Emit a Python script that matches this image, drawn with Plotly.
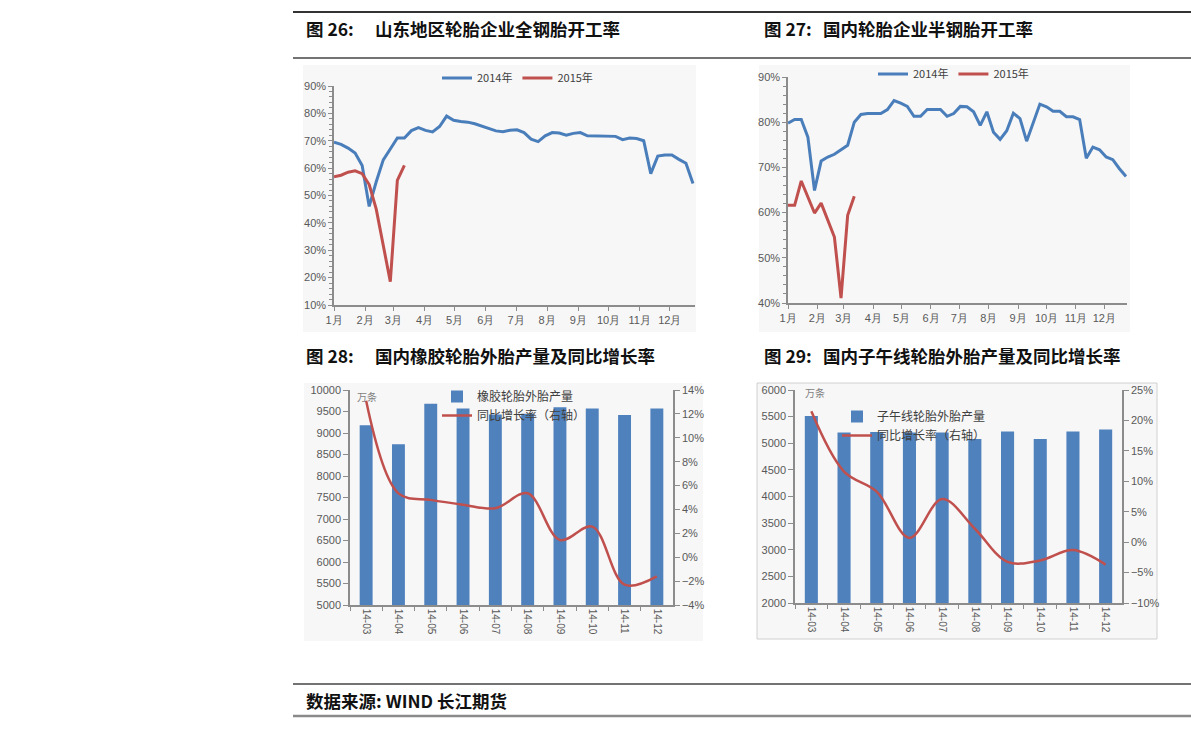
import pandas as pd
import plotly.graph_objects as go

# ---------------- data ----------------
week_dates = pd.date_range("2014-01-01", periods=52, freq="7D")
month_starts = pd.date_range("2014-01-01", periods=12, freq="MS")
month_labels = ["1月", "2月", "3月", "4月", "5月", "6月", "7月", "8月", "9月", "10月", "11月", "12月"]

allsteel_2014 = [69.5, 68.7, 67.3, 65.5, 61.0, 46.0, 55.0, 63.0, 67.0, 71.0,
                 71.0, 73.7, 74.8, 73.8, 73.2, 75.2, 79.0, 77.5, 77.0, 76.8,
                 76.2, 75.3, 74.5, 73.6, 73.3, 73.8, 74.0, 73.0, 70.6, 69.7,
                 71.8, 73.0, 72.8, 72.0, 72.7, 73.0, 71.8, 71.7, 71.7, 71.7,
                 71.6, 70.4, 71.0, 70.8, 70.0, 58.0, 64.4, 64.8, 64.8, 63.2,
                 61.8, 54.4]
allsteel_2015 = [56.8, 57.4, 58.5, 59.0, 58.0, 54.0, 45.0, 32.0, 18.5, 55.5, 61.0]

semisteel_2014 = [79.8, 80.6, 80.6, 76.7, 64.9, 71.4, 72.3, 72.9, 73.9, 74.9,
                  80.0, 81.7, 81.9, 81.9, 81.9, 82.8, 84.8, 84.2, 83.5, 81.3,
                  81.3, 82.8, 82.8, 82.8, 81.3, 81.9, 83.5, 83.4, 82.3, 79.3,
                  82.3, 77.8, 76.2, 78.1, 82.0, 80.8, 75.8, 79.7, 84.0, 83.4,
                  82.4, 82.4, 81.2, 81.2, 80.6, 72.0, 74.5, 73.9, 72.3, 71.7,
                  69.7, 68.0]
semisteel_2015 = [61.6, 61.6, 67.0, 63.5, 59.9, 62.1, 58.3, 54.6, 41.1, 59.4, 63.6]

bar_months = ["14-03", "14-04", "14-05", "14-06", "14-07", "14-08", "14-09", "14-10", "14-11", "14-12"]
rubber_output = [9180, 8740, 9680, 9570, 9430, 9450, 9600, 9570, 9420, 9570]
rubber_yoy = [13.1, 5.35, 4.8, 4.4, 4.1, 5.35, 1.44, 2.56, -2.3, -1.6]
radial_output = [5510, 5200, 5210, 5200, 5200, 5080, 5220, 5080, 5220, 5260]
radial_yoy = [21.5, 11.6, 8.3, 0.7, 7.1, 2.2, -3.25, -3.0, -1.3, -3.7]

# ---------------- style ----------------
W, H = 1191, 729
BLUE = "#4a7ebb"
RED = "#c0504d"
BAR = "#4f81bd"
AX = "#8c8c8c"
TXT = "#595959"
CJK = "Noto Sans CJK SC"
NUM = "Liberation Sans Narrow, Liberation Sans, Arial"


def px(x):
    return x / W


def py(y):
    return 1 - y / H


fig = go.Figure()

# chart 1
fig.add_trace(go.Scatter(x=week_dates, y=allsteel_2014, mode="lines", name="2014年",
                         line=dict(color=BLUE, width=3), xaxis="x", yaxis="y", legend="legend"))
fig.add_trace(go.Scatter(x=week_dates[:len(allsteel_2015)], y=allsteel_2015, mode="lines", name="2015年",
                         line=dict(color=RED, width=3), xaxis="x", yaxis="y", legend="legend"))
# chart 2
fig.add_trace(go.Scatter(x=week_dates, y=semisteel_2014, mode="lines", name="2014年",
                         line=dict(color=BLUE, width=3), xaxis="x2", yaxis="y2", legend="legend2"))
fig.add_trace(go.Scatter(x=week_dates[:len(semisteel_2015)], y=semisteel_2015, mode="lines", name="2015年",
                         line=dict(color=RED, width=3), xaxis="x2", yaxis="y2", legend="legend2"))
# chart 3
fig.add_trace(go.Bar(x=bar_months, y=rubber_output, name="橡胶轮胎外胎产量", marker=dict(color=BAR, line=dict(width=0)),
                     xaxis="x3", yaxis="y3", legend="legend3"))
fig.add_trace(go.Scatter(x=bar_months, y=rubber_yoy, mode="lines", name="同比增长率（右轴）",
                         line=dict(color=RED, width=2.5, shape="spline", smoothing=1.0),
                         xaxis="x3", yaxis="y5", legend="legend3"))
# chart 4
fig.add_trace(go.Bar(x=bar_months, y=radial_output, name="子午线轮胎外胎产量", marker=dict(color=BAR, line=dict(width=0)),
                     xaxis="x4", yaxis="y4", legend="legend4"))
fig.add_trace(go.Scatter(x=bar_months, y=radial_yoy, mode="lines", name="同比增长率（右轴）",
                         line=dict(color=RED, width=2.5, shape="spline", smoothing=1.0),
                         xaxis="x4", yaxis="y6", legend="legend4"))

tickfont_top = dict(family=NUM, size=11, color=TXT)
tickfont_bot = dict(family="Liberation Sans, Arial", size=11, color=TXT)


def date_xaxis(x0, x1, y_anchor, end):
    return dict(domain=[px(x0), px(x1)], anchor=y_anchor, type="date", automargin=False,
                range=["2014-01-01", end], tickmode="array", tickvals=month_starts, ticktext=month_labels,
                showline=True, linecolor=AX, linewidth=1.5, ticks="outside", ticklen=4, tickcolor=AX,
                showgrid=False, zeroline=False, tickfont=tickfont_top, tickangle=0)


def pct_yaxis(y0, y1, x_anchor, rng):
    return dict(domain=[py(y1), py(y0)], anchor=x_anchor, range=rng, dtick=10, ticksuffix="%", automargin=False,
                showline=True, linecolor=AX, linewidth=1.5, ticks="outside", ticklen=4, tickcolor=AX,
                minor=dict(dtick=2, ticks="outside", ticklen=3, tickcolor=AX),
                showgrid=False, zeroline=False, tickfont=tickfont_top)


def cat_xaxis(x0, x1, y_anchor):
    return dict(domain=[px(x0), px(x1)], anchor=y_anchor, type="category", tickson="boundaries", automargin=False,
                showline=True, linecolor=AX, linewidth=1.5, ticks="outside", ticklen=4, tickcolor=AX,
                showgrid=False, zeroline=False, tickangle=90,
                tickfont=dict(family="Liberation Sans, Arial", size=10, color=TXT))


def num_yaxis(y0, y1, x_anchor, rng, dt, side="left", overlay=None, suffix=""):
    d = dict(domain=[py(y1), py(y0)], anchor=x_anchor, range=rng, dtick=dt, side=side, ticksuffix=suffix,
             tickformat="d", showline=True, linecolor=AX, linewidth=1.5, ticks="outside", ticklen=5,
             tickcolor=AX, showgrid=False, zeroline=False, tickfont=tickfont_bot, automargin=False)
    if overlay:
        d["overlaying"] = overlay
    return d


legend_font = dict(family=CJK, size=11, color="#404040")

fig.update_layout(
    width=W, height=H, autosize=False,
    margin=dict(l=0, r=0, t=0, b=0, pad=0, autoexpand=False),
    paper_bgcolor="white", plot_bgcolor="rgba(0,0,0,0)",
    bargap=0.6,
    xaxis=date_xaxis(334, 695, "y", "2014-12-26"),
    yaxis=pct_yaxis(86, 305, "x", [10, 90]),
    xaxis2=date_xaxis(788, 1127, "y2", "2014-12-25"),
    yaxis2=pct_yaxis(77, 303, "x2", [40, 90]),
    xaxis3=cat_xaxis(350, 673, "y3"),
    yaxis3=num_yaxis(390, 605, "x3", [5000, 10000], 500),
    yaxis5=num_yaxis(390, 605, "x3", [-4, 14], 2, side="right", overlay="y3", suffix="%"),
    xaxis4=cat_xaxis(795, 1122, "y4"),
    yaxis4=num_yaxis(390, 603, "x4", [2000, 6000], 500),
    yaxis6=num_yaxis(390, 603, "x4", [-10, 25], 5, side="right", overlay="y4", suffix="%"),
    legend=dict(orientation="h", x=px(437), y=py(78), xanchor="left", yanchor="middle",
                bgcolor="rgba(0,0,0,0)", font=legend_font, itemwidth=30, tracegroupgap=0),
    legend2=dict(orientation="h", x=px(873), y=py(74), xanchor="left", yanchor="middle",
                 bgcolor="rgba(0,0,0,0)", font=legend_font, itemwidth=30),
    legend3=dict(orientation="v", x=px(437), y=py(382), xanchor="left", yanchor="top",
                 bgcolor="rgba(0,0,0,0)", font=dict(family=CJK, size=12, color="#404040"), itemwidth=30),
    legend4=dict(orientation="v", x=px(837), y=py(402), xanchor="left", yanchor="top",
                 bgcolor="rgba(0,0,0,0)", font=dict(family=CJK, size=12, color="#404040"), itemwidth=30),
    showlegend=True,
)

shapes = []
# panel backgrounds
for (x0, y0, x1, y1, border) in [(303, 65, 696, 332, False), (759, 65, 1130, 332, False),
                                  (304, 383, 703, 641, False), (757, 383, 1157, 639, True)]:
    shapes.append(dict(type="rect", xref="paper", yref="paper", x0=px(x0), x1=px(x1), y0=py(y1), y1=py(y0),
                       fillcolor="#f7f7f7", line=dict(width=1 if border else 0, color="#d0d0d0"), layer="below"))
# rules
for (y, w, c) in [(12, 2, "#333333"), (58, 1.5, "#444444"), (684, 1.5, "#444444"), (716, 2.5, "#8a8a8a")]:
    shapes.append(dict(type="line", xref="paper", yref="paper", x0=px(293), x1=1, y0=py(y), y1=py(y),
                       line=dict(color=c, width=w)))
fig.update_layout(shapes=shapes)

title_font = dict(family=CJK, size=17.5, color="#111111", weight="bold")
annotations = [
    dict(text="图 26:", x=px(304), y=py(29)),
    dict(text="山东地区轮胎企业全钢胎开工率", x=px(373), y=py(29)),
    dict(text="图 27:", x=px(762), y=py(29)),
    dict(text="国内轮胎企业半钢胎开工率", x=px(821), y=py(29)),
    dict(text="图 28:", x=px(304), y=py(355)),
    dict(text="国内橡胶轮胎外胎产量及同比增长率", x=px(373), y=py(355)),
    dict(text="图 29:", x=px(762), y=py(355)),
    dict(text="国内子午线轮胎外胎产量及同比增长率", x=px(821), y=py(355)),
    dict(text="数据来源: WIND 长江期货", x=px(304), y=py(700)),
]
anns = []
for a in annotations:
    a.update(xref="paper", yref="paper", xanchor="left", yanchor="middle", showarrow=False, font=title_font)
    anns.append(a)
unit_font = dict(family=CJK, size=10, color="#7f7f7f")
anns.append(dict(text="万条", x=px(355), y=py(396), xref="paper", yref="paper", xanchor="left",
                 yanchor="middle", showarrow=False, font=unit_font))
anns.append(dict(text="万条", x=px(803), y=py(392), xref="paper", yref="paper", xanchor="left",
                 yanchor="middle", showarrow=False, font=unit_font))
fig.update_layout(annotations=anns)

fig.write_html("out.html", post_script="document.body.style.margin='0';document.body.style.overflow='hidden';")
